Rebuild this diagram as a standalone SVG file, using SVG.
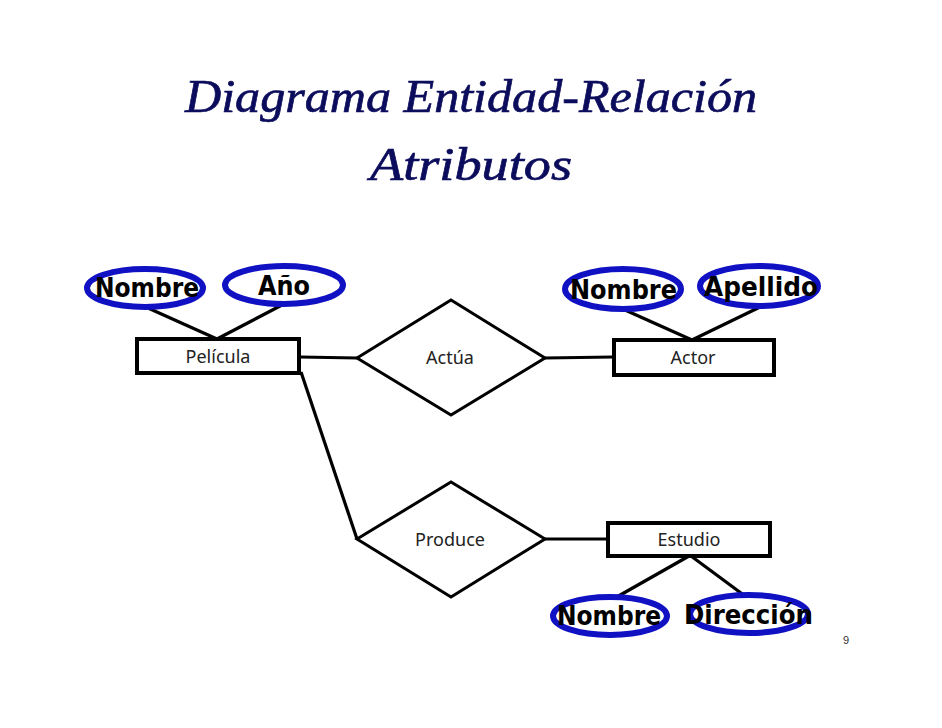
<svg xmlns="http://www.w3.org/2000/svg" width="942" height="728" viewBox="0 0 942 728">
<style>
.title{font-family:"Liberation Serif","DejaVu Serif",serif;font-style:italic;font-size:47px;fill:#0c0c5c;stroke:#0c0c5c;stroke-width:0.7;text-anchor:middle}
.ent{fill:#fff;stroke:#000;stroke-width:4}
.rel{fill:#fff;stroke:#000;stroke-width:3;stroke-linejoin:miter}
.lbl{font-family:"Noto Sans","DejaVu Sans",sans-serif;font-size:18px;fill:#222;text-anchor:middle}
.att{fill:none;stroke:#1111c4;stroke-width:6}
.atxt{font-family:"DejaVu Sans","Liberation Sans",sans-serif;font-weight:bold;font-size:27px;fill:#000}
.con{stroke:#000;stroke-width:3.2;fill:none}
.pg{font-family:"Liberation Sans",sans-serif;font-size:11px;fill:#333}
</style>
<rect width="942" height="728" fill="#fff"/>
<g id="title">
<text class="title" x="471" y="112" textLength="572" lengthAdjust="spacingAndGlyphs">Diagrama Entidad-Relación</text>
<text class="title" x="471" y="180" textLength="202" lengthAdjust="spacingAndGlyphs">Atributos</text>
</g>
<g id="connectors">
<line class="con" x1="148" y1="308" x2="217" y2="339"/>
<line class="con" x1="282" y1="305" x2="217" y2="339"/>
<line class="con" x1="625" y1="310" x2="692" y2="340"/>
<line class="con" x1="760" y1="307" x2="692" y2="340"/>
<line class="con" x1="689" y1="556" x2="615" y2="598"/>
<line class="con" x1="691" y1="556" x2="745" y2="596"/>
<line class="con" x1="300" y1="357" x2="357" y2="358"/>
<line class="con" x1="545" y1="358" x2="613" y2="357"/>
<line class="con" x1="301" y1="372" x2="357" y2="539"/>
<line class="con" x1="545" y1="539" x2="607" y2="539" stroke="#333"/>
</g>
<g id="pelicula">
<rect class="ent" x="137" y="339" width="162" height="34"/>
<text class="lbl" x="218" y="363">Película</text>
</g>
<g id="actor">
<rect class="ent" x="614" y="340" width="160" height="35"/>
<text class="lbl" x="693" y="364">Actor</text>
</g>
<g id="estudio">
<rect class="ent" x="608" y="523" width="162" height="33"/>
<text class="lbl" x="689" y="546">Estudio</text>
</g>
<g id="actua">
<polygon class="rel" points="357,358 451,300 545,358 451,415"/>
<text class="lbl" x="450" y="364">Actúa</text>
</g>
<g id="produce">
<polygon class="rel" points="357,539 451,482 545,539 451,597"/>
<text class="lbl" x="450" y="546">Produce</text>
</g>
<g id="pelicula-nombre">
<ellipse class="att" cx="145" cy="288" rx="58" ry="19"/>
<text class="atxt" x="95" y="297" textLength="104" lengthAdjust="spacingAndGlyphs">Nombre</text>
</g>
<g id="pelicula-anio">
<ellipse class="att" cx="284" cy="285" rx="59" ry="19"/>
<text class="atxt" x="258" y="295" textLength="52" lengthAdjust="spacingAndGlyphs">Año</text>
</g>
<g id="actor-nombre">
<ellipse class="att" cx="623" cy="289" rx="58" ry="20"/>
<text class="atxt" x="570" y="299" textLength="107" lengthAdjust="spacingAndGlyphs">Nombre</text>
</g>
<g id="actor-apellido">
<ellipse class="att" cx="759" cy="286" rx="59" ry="20"/>
<text class="atxt" x="704" y="296" textLength="114" lengthAdjust="spacingAndGlyphs">Apellido</text>
</g>
<g id="estudio-nombre">
<ellipse class="att" cx="610" cy="616" rx="57" ry="19"/>
<text class="atxt" x="557" y="625" textLength="104" lengthAdjust="spacingAndGlyphs">Nombre</text>
</g>
<g id="estudio-direccion">
<ellipse class="att" cx="749" cy="614" rx="59" ry="19"/>
<text class="atxt" x="684" y="624" textLength="129" lengthAdjust="spacingAndGlyphs">Dirección</text>
</g>
<text class="pg" x="843" y="644">9</text>
</svg>
